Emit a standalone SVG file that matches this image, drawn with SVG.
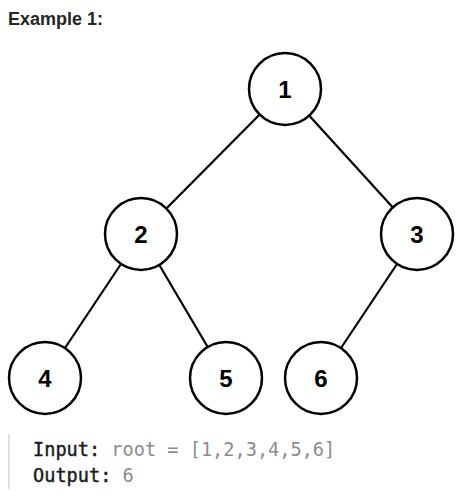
<svg xmlns="http://www.w3.org/2000/svg" width="474" height="495" viewBox="0 0 474 495">
<style>
.n circle{fill:#fff;stroke:#000;stroke-width:2.5}
.n text{font-family:"Liberation Sans",Arial,sans-serif;font-weight:bold;font-size:24px;text-anchor:middle;fill:#000}
.e line{stroke:#000;stroke-width:2.2}
.mono{font-family:"DejaVu Sans Mono","Liberation Mono",monospace;font-size:18.6px}
.k{fill:#1a1a1a;stroke:#1a1a1a;stroke-width:0.4}
.v{fill:#8c8c8c}
</style>
<rect width="474" height="495" fill="#fff"/>
<text x="8" y="25" font-family="Liberation Sans,Arial,sans-serif" font-weight="bold" font-size="18" fill="#262626">Example 1:</text>
<g id="edges" class="e">
<line x1="285" y1="89" x2="141" y2="234"/>
<line x1="285" y1="89" x2="417" y2="234"/>
<line x1="141" y1="234" x2="45" y2="378"/>
<line x1="141" y1="234" x2="226" y2="378"/>
<line x1="417" y1="234" x2="321" y2="378"/>
</g>
<g id="node1" class="n"><circle cx="285" cy="89" r="36"/><text x="285" y="98">1</text></g>
<g id="node2" class="n"><circle cx="141" cy="234" r="36"/><text x="141" y="243">2</text></g>
<g id="node3" class="n"><circle cx="417" cy="234" r="36"/><text x="417" y="243">3</text></g>
<g id="node4" class="n"><circle cx="45" cy="378" r="36"/><text x="45" y="387">4</text></g>
<g id="node5" class="n"><circle cx="226" cy="378" r="36"/><text x="226" y="387">5</text></g>
<g id="node6" class="n"><circle cx="321" cy="378" r="36"/><text x="321" y="387">6</text></g>
<rect x="8" y="434" width="2" height="55" fill="#e0e0e0"/>
<text class="mono" x="33" y="456"><tspan class="k">Input:</tspan><tspan class="v"> root = [1,2,3,4,5,6]</tspan></text>
<text class="mono" x="33" y="482"><tspan class="k">Output:</tspan><tspan class="v"> 6</tspan></text>
</svg>
